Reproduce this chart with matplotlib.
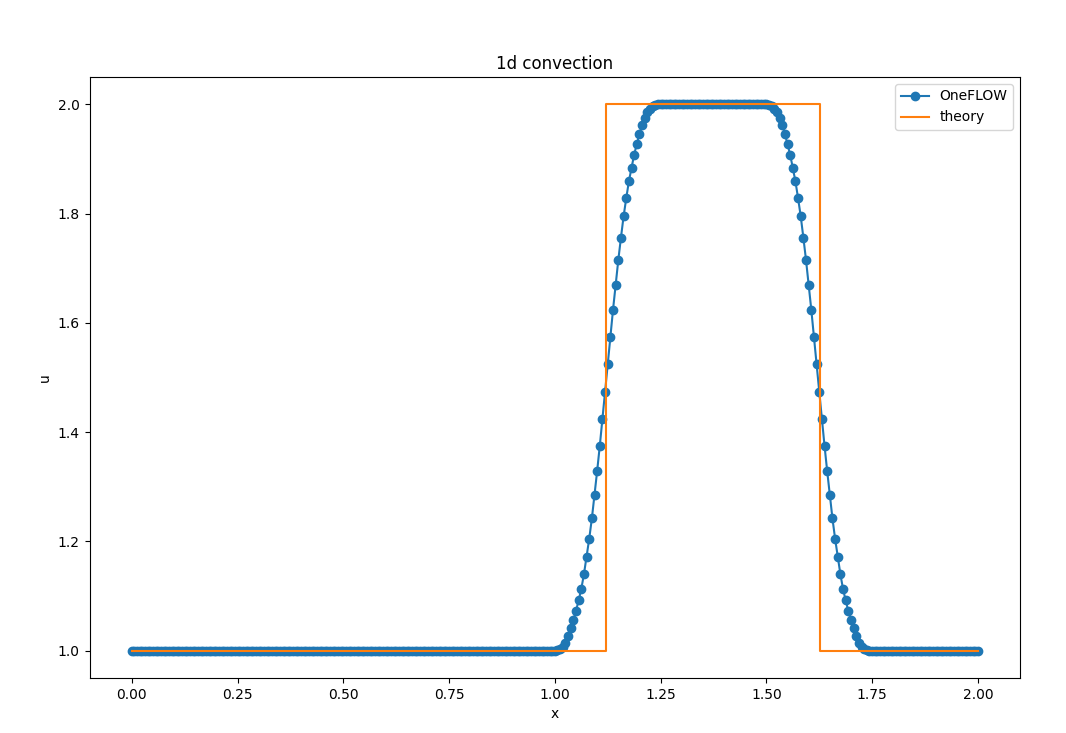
import numpy as np
import matplotlib
matplotlib.use("Agg")
import matplotlib.pyplot as plt

# OneFLOW solution, x = 0.0 .. 2.0 step 0.00625
x = np.arange(0, 321) * 0.00625
rise = [1.0, 1.001, 1.003, 1.007, 1.014, 1.027, 1.041, 1.056, 1.073, 1.092, 1.113, 1.140,
        1.172, 1.205, 1.242, 1.285, 1.329, 1.375, 1.424, 1.473, 1.524, 1.574, 1.624,
        1.670, 1.715, 1.756, 1.795, 1.828, 1.859, 1.883, 1.908, 1.927, 1.946, 1.963,
        1.975, 1.985, 1.992, 1.996, 1.999, 2.0]
low_left = [1.0] * 160
plateau = [2.0] * 40
fall = rise[::-1]
low_right = [1.0] * 41
u = np.array(low_left + rise + plateau + fall + low_right)

# theory
x_th = [0.0, 1.12, 1.12, 1.627, 1.627, 2.0]
u_th = [1.0, 1.0, 2.0, 2.0, 1.0, 1.0]

fig, ax = plt.subplots(figsize=(10.66, 7.33), dpi=100)
fig.subplots_adjust(left=0.084, right=0.957, top=0.895, bottom=0.075)
ax.plot(x, u, 'o-', color='#1f77b4', label='OneFLOW')
ax.plot(x_th, u_th, color='#ff7f0e', label='theory')
ax.set_title('1d convection')
ax.set_xlabel('x')
ax.set_ylabel('u')
ax.legend(loc='upper right')
fig.savefig('out.png', dpi=100)
